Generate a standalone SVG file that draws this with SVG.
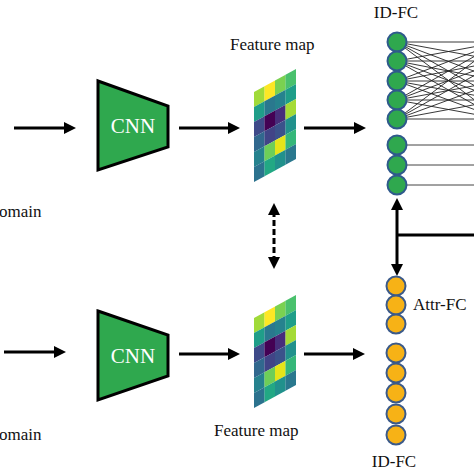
<svg xmlns="http://www.w3.org/2000/svg" xmlns:xlink="http://www.w3.org/1999/xlink" width="474" height="474" viewBox="0 0 474 474">
<style>
.lbl{font-family:"Liberation Serif","Times New Roman",serif;font-size:17px;fill:#111}
.cnnt{font-family:"Liberation Serif","Times New Roman",serif;font-size:21px;fill:#fff;text-anchor:middle}
.cnn{fill:#2fa84e;stroke:#000;stroke-width:3;stroke-linejoin:miter}
.arr{stroke:#000;stroke-width:3;fill:none;marker-end:url(#ah)}
.dbl{stroke:#000;stroke-width:3;fill:none;marker-start:url(#ah);marker-end:url(#ah)}
.g{fill:#2fa84e;stroke:#2f5a8c;stroke-width:2}
.o{fill:#f7b216;stroke:#3b5a8a;stroke-width:2}
.fc{stroke:#222;stroke-width:0.9}
.hl{stroke:#444;stroke-width:1}
</style>
<defs>
<marker id="ah" markerUnits="userSpaceOnUse" markerWidth="12" markerHeight="12" refX="4" refY="6" orient="auto-start-reverse">
<path d="M0,0 L12,6 L0,12 z" fill="#000"/>
</marker>
<g id="fmap" transform="skewY(-28.7)">
<rect x="0" y="0" width="10.6" height="15.1" fill="#a0da39"/><rect x="10.5" y="0" width="10.6" height="15.1" fill="#fde725"/><rect x="21" y="0" width="10.6" height="15.1" fill="#7ad151"/><rect x="31.5" y="0" width="10.5" height="15.1" fill="#4ac16d"/>
<rect x="0" y="15" width="10.6" height="15.1" fill="#1f9e89"/><rect x="10.5" y="15" width="10.6" height="15.1" fill="#2a788e"/><rect x="21" y="15" width="10.6" height="15.1" fill="#26828e"/><rect x="31.5" y="15" width="10.5" height="15.1" fill="#1f9e89"/>
<rect x="0" y="30" width="10.6" height="15.1" fill="#3e4a89"/><rect x="10.5" y="30" width="10.6" height="15.1" fill="#440154"/><rect x="21" y="30" width="10.6" height="15.1" fill="#472d7b"/><rect x="31.5" y="30" width="10.5" height="15.1" fill="#a5db36"/>
<rect x="0" y="45" width="10.6" height="15.1" fill="#31688e"/><rect x="10.5" y="45" width="10.6" height="15.1" fill="#414487"/><rect x="21" y="45" width="10.6" height="15.1" fill="#3b528b"/><rect x="31.5" y="45" width="10.5" height="15.1" fill="#21918c"/>
<rect x="0" y="60" width="10.6" height="15.1" fill="#26828e"/><rect x="10.5" y="60" width="10.6" height="15.1" fill="#6ece58"/><rect x="21" y="60" width="10.6" height="15.1" fill="#e5e419"/><rect x="31.5" y="60" width="10.5" height="15.1" fill="#35b779"/>
<rect x="0" y="75" width="10.6" height="15" fill="#2c728e"/><rect x="10.5" y="75" width="10.6" height="15" fill="#22a884"/><rect x="21" y="75" width="10.6" height="15" fill="#21918c"/><rect x="31.5" y="75" width="10.5" height="15" fill="#2a788e"/>
</g>
</defs>
<rect width="474" height="474" fill="#fff"/>

<g id="connectors">
<line class="arr" x1="14" y1="128" x2="68" y2="128"/>
<line class="arr" x1="179" y1="128" x2="232" y2="128"/>
<line class="arr" x1="304" y1="128" x2="358" y2="128"/>
<line class="arr" x1="4" y1="352" x2="58" y2="352"/>
<line class="arr" x1="179" y1="354" x2="232" y2="354"/>
<line class="arr" x1="304" y1="354" x2="357" y2="354"/>
<line class="dbl" x1="274" y1="211" x2="274" y2="261" stroke-dasharray="6,3"/>
<line class="dbl" x1="397" y1="206" x2="397" y2="268"/>
<line x1="397" y1="235" x2="480" y2="235" stroke="#000" stroke-width="3"/>
<g id="fc-lines">
<line class="fc" x1="397" y1="42" x2="500" y2="42"/><line class="fc" x1="397" y1="42" x2="500" y2="61"/><line class="fc" x1="397" y1="42" x2="500" y2="81"/><line class="fc" x1="397" y1="42" x2="500" y2="100"/><line class="fc" x1="397" y1="42" x2="500" y2="119"/>
<line class="fc" x1="397" y1="61" x2="500" y2="42"/><line class="fc" x1="397" y1="61" x2="500" y2="61"/><line class="fc" x1="397" y1="61" x2="500" y2="81"/><line class="fc" x1="397" y1="61" x2="500" y2="100"/><line class="fc" x1="397" y1="61" x2="500" y2="119"/>
<line class="fc" x1="397" y1="81" x2="500" y2="42"/><line class="fc" x1="397" y1="81" x2="500" y2="61"/><line class="fc" x1="397" y1="81" x2="500" y2="81"/><line class="fc" x1="397" y1="81" x2="500" y2="100"/><line class="fc" x1="397" y1="81" x2="500" y2="119"/>
<line class="fc" x1="397" y1="100" x2="500" y2="42"/><line class="fc" x1="397" y1="100" x2="500" y2="61"/><line class="fc" x1="397" y1="100" x2="500" y2="81"/><line class="fc" x1="397" y1="100" x2="500" y2="100"/><line class="fc" x1="397" y1="100" x2="500" y2="119"/>
<line class="fc" x1="397" y1="119" x2="500" y2="42"/><line class="fc" x1="397" y1="119" x2="500" y2="61"/><line class="fc" x1="397" y1="119" x2="500" y2="81"/><line class="fc" x1="397" y1="119" x2="500" y2="100"/><line class="fc" x1="397" y1="119" x2="500" y2="119"/>
<line class="hl" x1="397" y1="145" x2="480" y2="145"/>
<line class="hl" x1="397" y1="165" x2="480" y2="165"/>
<line class="hl" x1="397" y1="185" x2="480" y2="185"/>
</g>
</g>

<g id="label-domain-top"><text class="lbl" x="-1" y="217">omain</text></g>
<g id="label-domain-bottom"><text class="lbl" x="-1" y="440">omain</text></g>

<g id="cnn-top">
<polygon class="cnn" points="98,81 168,106 168,147 98,170"/>
<text class="cnnt" x="133" y="133">CNN</text>
</g>
<g id="cnn-bottom">
<polygon class="cnn" points="98,311 168,335 168,376 98,400"/>
<text class="cnnt" x="133" y="363">CNN</text>
</g>

<g id="featuremap-top">
<text class="lbl" x="230" y="50">Feature map</text>
<use xlink:href="#fmap" transform="translate(254,92)"/>
</g>
<g id="featuremap-bottom">
<use xlink:href="#fmap" transform="translate(254,318)"/>
<text class="lbl" x="214" y="436">Feature map</text>
</g>

<g id="id-fc-top">
<text class="lbl" x="396" y="18" text-anchor="middle">ID-FC</text>
<circle class="g" cx="397" cy="42" r="9.5"/>
<circle class="g" cx="397" cy="61" r="9.5"/>
<circle class="g" cx="397" cy="81" r="9.5"/>
<circle class="g" cx="397" cy="100" r="9.5"/>
<circle class="g" cx="397" cy="119" r="9.5"/>
<circle class="g" cx="397" cy="145" r="9.5"/>
<circle class="g" cx="397" cy="165" r="9.5"/>
<circle class="g" cx="397" cy="185" r="9.5"/>
</g>

<g id="attr-fc">
<circle class="o" cx="396" cy="286" r="9.5"/>
<circle class="o" cx="396" cy="305" r="9.5"/>
<circle class="o" cx="396" cy="324" r="9.5"/>
<text class="lbl" x="413" y="310">Attr-FC</text>
</g>
<g id="id-fc-bottom">
<circle class="o" cx="396" cy="353" r="9.5"/>
<circle class="o" cx="396" cy="373" r="9.5"/>
<circle class="o" cx="396" cy="393" r="9.5"/>
<circle class="o" cx="396" cy="414" r="9.5"/>
<circle class="o" cx="396" cy="435" r="9.5"/>
<text class="lbl" x="394" y="467" text-anchor="middle">ID-FC</text>
</g>
</svg>
